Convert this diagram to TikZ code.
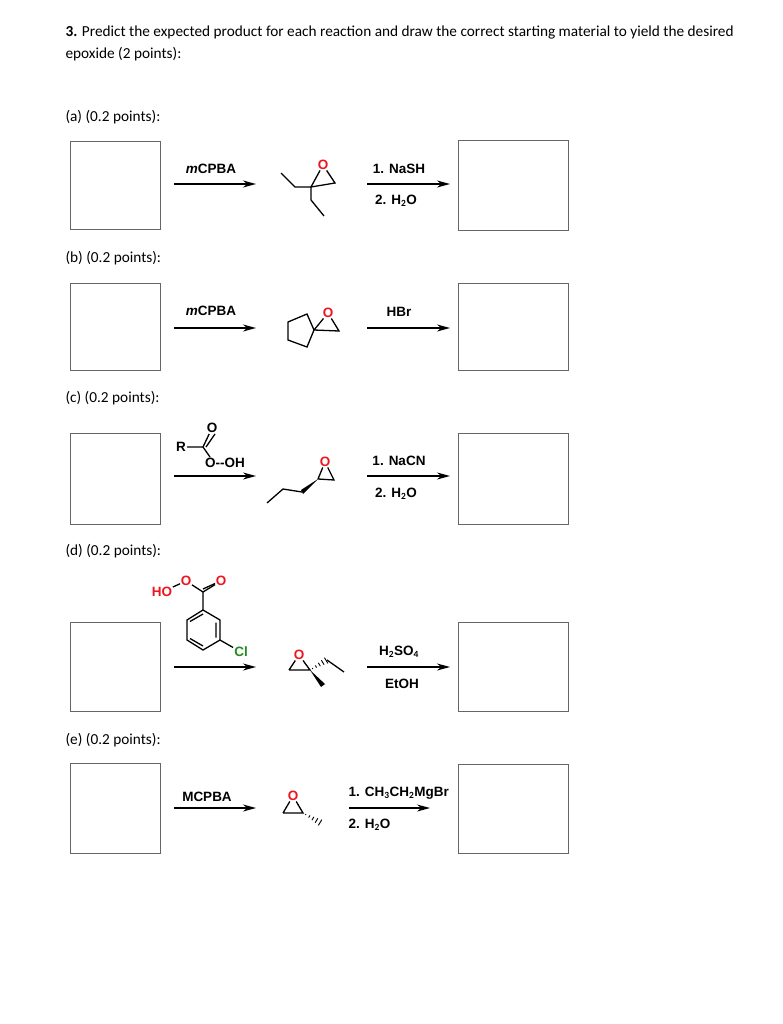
\documentclass[tikz,border=0pt]{standalone}
\usepackage{fontspec}
\setmainfont{Carlito}
\newfontfamily\rg{Liberation Sans}
\usetikzlibrary{arrows.meta,calc}
\definecolor{oxr}{RGB}{240,20,30}
\definecolor{clg}{RGB}{30,140,30}
\begin{document}
\begin{tikzpicture}[x=1pt,y=-1pt,
 hd/.style={anchor=west,font=\fontsize{15.3}{18}\selectfont},
 boxx/.style={draw=black!60,line width=1pt},
 rx/.style={-{Stealth[length=13pt,width=7pt]},line width=1.3pt},
 rg/.style={font=\rg\bfseries\fontsize{13.5}{16}\selectfont},
 bd/.style={line width=1.3pt},
 ox/.style={text=oxr,font=\rg\bfseries\fontsize{13.5}{16}\selectfont,inner sep=0.5pt}]
\useasboundingbox (0,0) rectangle (782,1024);
\node[hd] (t1) at (62,33) {\textbf{3.} Predict the expected product for each reaction and draw the correct starting material to yield the desired};
\node[hd] (t2) at (62,54) {epoxide (2 points):};
% (a)
\node[hd] (la) at (62,117) {(a) (0.2 points):};
\draw[boxx] (70,142) rectangle (160,230);
\draw[boxx] (458,141) rectangle (568,231);
\coordinate (a1s) at (174,184); \coordinate (a1e) at (256,184);
\draw[rx] (a1s) -- (a1e);
\node[rg] (ra1) at (211,169) {\textit{m}CPBA};
\coordinate (a2s) at (367,184); \coordinate (a2e) at (450,184);
\draw[rx] (a2s) -- (a2e);
\node[rg] (ra2) at (399,169) {1. NaSH};
\node[rg] (ra3) at (396,201) {2. H$_\mathbf{2}$O};
\node[ox] (oa) at (323,165) {O};
\draw[bd] (281,173) -- (295,187) -- (311,187) -- (335,183) -- (oa) -- (311,187) -- (311,200) -- (324,216);
% (b)
\node[hd] (lb) at (62,258) {(b) (0.2 points):};
\draw[boxx] (70,283) rectangle (160,370);
\draw[boxx] (458,283) rectangle (568,370);
\coordinate (b1s) at (174,328); \coordinate (b1e) at (256,328);
\draw[rx] (b1s) -- (b1e);
\node[rg] (rb1) at (211,311) {\textit{m}CPBA};
\coordinate (b2s) at (367,328); \coordinate (b2e) at (450,328);
\draw[rx] (b2s) -- (b2e);
\node[rg] (rb2) at (399,312) {HBr};
\node[ox] (ob) at (328,313) {O};
\draw[bd] (314,330) -- (339,331) -- (ob) -- (314,330);
\draw[bd] (314,330) -- (307,314) -- (288,322) -- (288,340) -- (307,347) -- cycle;
% (c)
\node[hd] (lc) at (62,398) {(c) (0.2 points):};
\draw[boxx] (70,433) rectangle (160,524);
\draw[boxx] (458,433) rectangle (568,524);
\coordinate (c1s) at (174,476); \coordinate (c1e) at (256,476);
\draw[rx] (c1s) -- (c1e);
\coordinate (c2s) at (367,476); \coordinate (c2e) at (450,476);
\draw[rx] (c2s) -- (c2e);
\node[rg] (rc1) at (399,461) {1. NaCN};
\node[rg] (rc2) at (396,494) {2. H$_\mathbf{2}$O};
\node[rg,inner sep=1pt] (rR) at (181,447) {R};
\node[rg,inner sep=1pt] (rO1) at (212,428) {O};
\node[rg,inner sep=1pt,anchor=west] (rO2) at (204,463) {O--OH};
\coordinate (cC) at (203,447);
\draw[bd] (rR) -- (cC) -- ($(rO2.west)+(6,-6)$);
\draw[bd] (cC) -- (rO1);
\draw[bd] ([xshift=3pt]cC) -- ([xshift=3pt]rO1.south);
\node[ox] (oc) at (325,462) {O};
\draw[bd] (318,479) -- (334,480) -- (oc) -- (318,479);
\fill (318,479) -- (303,494) -- (301,490) -- cycle;
\draw[bd] (302,492) -- (283,489) -- (267,503);
% (d)
\node[hd] (ld) at (62,551) {(d) (0.2 points):};
\draw[boxx] (70,622) rectangle (160,711);
\draw[boxx] (458,622) rectangle (568,711);
\coordinate (d1s) at (174,667); \coordinate (d1e) at (256,667);
\draw[rx] (d1s) -- (d1e);
\coordinate (d2s) at (367,667); \coordinate (d2e) at (450,667);
\draw[rx] (d2s) -- (d2e);
\node[rg] (rd1) at (399,652) {H$_\mathbf{2}$SO$_\mathbf{4}$};
\node[rg] (rd2) at (402,684) {EtOH};
\draw[bd] (203,610) -- (220,620) -- (220,640) -- (203,650) -- (187,640) -- (187,620) -- cycle;
\draw[bd] (216,622.5) -- (216,637.5) (203,646) -- (190,638.5) (190,621.5) -- (203,614);
\node[text=clg,font=\rg\bfseries\fontsize{13.5}{16}\selectfont,inner sep=1pt] (cl) at (241,652) {Cl};
\draw[bd] (220,640) -- (cl);
\coordinate (dC) at (203,592);
\node[ox] (dO1) at (221,581) {O};
\node[ox] (dO2) at (186,581) {O};
\node[ox] (dHO) at (162,592) {HO};
\draw[bd] (203,610) -- (dC) -- (dO1);
\draw[bd] ([yshift=3pt]dC) -- ([yshift=3pt]dO1.south west);
\draw[bd] (dC) -- (dO2) -- (dHO);
\node[ox] (od) at (299,655) {O};
\draw[bd] (289,670) -- (310,670) -- (od) -- (289,670);
\foreach \t in {0.15,0.35,0.55,0.75,0.95}
  \draw[line width=0.9pt] ($(310,670)!\t!(327,660)+(-0.6*\t*3,-\t*3)$) -- ($(310,670)!\t!(327,660)+(0.6*\t*3,\t*3)$);
\draw[bd] (327,660) -- (344,672);
\fill (310,670) -- (325,684) -- (321,687) -- cycle;
% (e)
\node[hd] (le) at (62,740) {(e) (0.2 points):};
\draw[boxx] (70,763) rectangle (160,853);
\draw[boxx] (458,764) rectangle (568,853);
\coordinate (e1s) at (174,808); \coordinate (e1e) at (256,808);
\draw[rx] (e1s) -- (e1e);
\node[rg] (re1) at (207,797) {MCPBA};
\coordinate (e2s) at (349,808); \coordinate (e2e) at (430,808);
\draw[rx] (e2s) -- (e2e);
\node[rg,anchor=west] (re2) at (345,793) {1. CH$_\mathbf{3}$CH$_\mathbf{2}$MgBr};
\node[rg,anchor=west] (re3) at (345,825) {2. H$_\mathbf{2}$O};
\node[ox] (oe) at (293,796) {O};
\draw[bd] (283,813) -- (303,813) -- (oe) -- (283,813);
\foreach \t in {0.15,0.35,0.55,0.75,0.95}
  \draw[line width=0.9pt] ($(303,813)!\t!(321,823)+(\t*1.8,-\t*3)$) -- ($(303,813)!\t!(321,823)+(-\t*1.8,\t*3)$);
\end{tikzpicture}
\end{document}
